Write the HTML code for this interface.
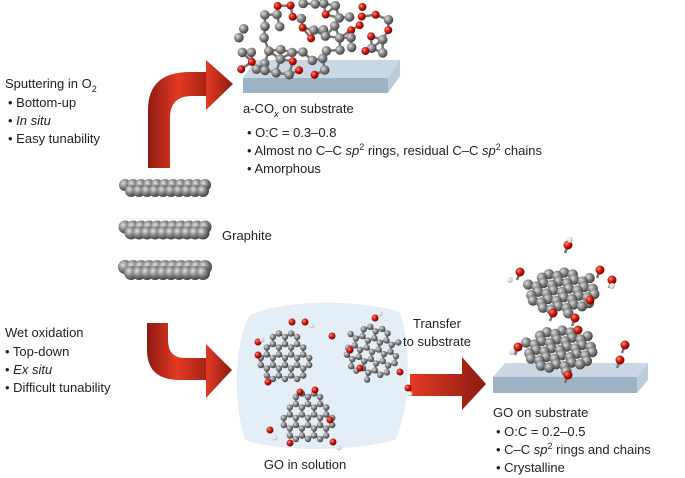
<!DOCTYPE html>
<html><head><meta charset="utf-8"><style>
body{margin:0;background:#fff}
svg{display:block}
text{font-family:"Liberation Sans",Arial,sans-serif;font-size:13px;fill:#222}
</style></head><body>
<svg id="s" width="685" height="478" viewBox="0 0 685 478" xmlns="http://www.w3.org/2000/svg">
<defs>
<radialGradient id="g" cx="35%" cy="35%" r="65%"><stop offset="0" stop-color="#e0e0e0"/><stop offset="0.5" stop-color="#8a8a8a"/><stop offset="1" stop-color="#444"/></radialGradient>
<radialGradient id="r" cx="35%" cy="35%" r="65%"><stop offset="0" stop-color="#ff8a80"/><stop offset="0.5" stop-color="#d01c10"/><stop offset="1" stop-color="#700"/></radialGradient>
<radialGradient id="w" cx="35%" cy="35%" r="65%"><stop offset="0" stop-color="#fff"/><stop offset="1" stop-color="#bbb"/></radialGradient>
<linearGradient id="ah" x1="0" x2="1"><stop offset="0" stop-color="#e33a25"/><stop offset="1" stop-color="#8e1a10"/></linearGradient>
<linearGradient id="av" x1="0" x2="1"><stop offset="0" stop-color="#8e1a10"/><stop offset="0.5" stop-color="#e33a25"/><stop offset="1" stop-color="#a52214"/></linearGradient>
</defs>
<path d="M250,315 C290,298 360,300 400,312 C412,350 410,410 395,440 C350,452 280,452 245,440 C232,400 235,340 250,315Z" fill="#e3eef7"/>
<polygon points="243,78 388,78 400,60 255,60" fill="#c9d8e4"/>
<polygon points="243,78 388,78 388,93 243,93" fill="#9db3c4"/>
<polygon points="388,78 400,60 400,76 388,93" fill="#b8ccda"/>
<polygon points="493,377 637,377 648,363 505,363" fill="#c9d8e4"/>
<polygon points="493,377 637,377 637,393 493,393" fill="#9db3c4"/>
<polygon points="637,377 648,363 648,380 637,393" fill="#b8ccda"/>
<path d="M148,168 L148,110 Q148,72 190,72 L208,72 L208,96 L192,96 Q170,96 170,118 L170,168Z" fill="url(#av)"/>
<polygon points="206,60 233,84 206,110" fill="url(#ah)"/>
<path d="M147,323 L147,350 Q147,380 180,380 L207,380 L207,358 L185,358 Q168,358 168,340 L168,323Z" fill="url(#av)"/>
<polygon points="206,344 232,370 206,398" fill="url(#ah)"/>
<polygon points="410,374 462,374 462,357 486,384 462,410 462,396 410,396" fill="url(#ah)"/>
<g id="bonds" stroke="#777" stroke-width="2"></g>
<g id="mol"></g>
<text x="5" y="88" font-size="13.5">Sputtering in O<tspan font-size="9" dy="4">2</tspan></text>
<text x="8" y="107">• Bottom-up</text>
<text x="8" y="125">• <tspan font-style="italic">In situ</tspan></text>
<text x="8" y="143">• Easy tunability</text>
<text x="243" y="113">a-CO<tspan font-size="9" dy="4" font-style="italic">x</tspan><tspan dy="-4"> on substrate</tspan></text>
<text x="247" y="137">• O:C = 0.3–0.8</text>
<text x="247" y="155">• Almost no C–C <tspan font-style="italic">sp</tspan><tspan font-size="9" dy="-5">2</tspan><tspan dy="5"> rings, residual C–C </tspan><tspan font-style="italic">sp</tspan><tspan font-size="9" dy="-5">2</tspan><tspan dy="5"> chains</tspan></text>
<text x="247" y="173">• Amorphous</text>
<text x="222" y="240">Graphite</text>
<text x="5" y="337">Wet oxidation</text>
<text x="5" y="356">• Top-down</text>
<text x="5" y="374">• <tspan font-style="italic">Ex situ</tspan></text>
<text x="5" y="392">• Difficult tunability</text>
<text x="437" y="328" text-anchor="middle">Transfer</text>
<text x="437" y="346" text-anchor="middle">to substrate</text>
<text x="305" y="469" text-anchor="middle">GO in solution</text>
<text x="493" y="417">GO on substrate</text>
<text x="496" y="436">• O:C = 0.2–0.5</text>
<text x="496" y="454">• C–C <tspan font-style="italic">sp</tspan><tspan font-size="9" dy="-5">2</tspan><tspan dy="5"> rings and chains</tspan></text>
<text x="496" y="472">• Crystalline</text>
</svg>
<script>
var m=document.getElementById('mol'),bd=document.getElementById('bonds'),NS='http://www.w3.org/2000/svg';
function b(x,y,r,f){var c=document.createElementNS(NS,'circle');c.setAttribute('cx',x.toFixed(1));c.setAttribute('cy',y.toFixed(1));c.setAttribute('r',r);c.setAttribute('fill','url(#'+f+')');m.appendChild(c);}
function ln(x1,y1,x2,y2,w){var l=document.createElementNS(NS,'line');l.setAttribute('x1',x1);l.setAttribute('y1',y1);l.setAttribute('x2',x2);l.setAttribute('y2',y2);if(w)l.setAttribute('stroke-width',w);bd.appendChild(l);}
var seed=7;function rnd(){seed=(seed*9301+49297)%233280;return seed/233280;}
[[188,6],[230,6.5],[270,7]].forEach(function(l,i){for(var k=0;k<2;k++)for(var x=125+k*6;x<=208-k*3;x+=8)b(x,l[0]-3+k*6,l[1],'g');});
function sheet(cx,cy,R,s,ang,sq,sr){var pts=[],a=ang*Math.PI/180,h=Math.sqrt(3)*s;
 for(var i=-8;i<=8;i++)for(var j=-8;j<=8;j++){[[0,0],[0,s]].forEach(function(bs){var x=i*h+j*h/2+bs[0],y=j*1.5*s+bs[1];if(x*x+y*y<=R*R)pts.push([x,y]);});}
 var T=pts.map(function(p){return [cx+p[0]*Math.cos(a)-p[1]*Math.sin(a),cy+(p[0]*Math.sin(a)+p[1]*Math.cos(a))*sq];});
 for(var i=0;i<pts.length;i++)for(var j=i+1;j<pts.length;j++){var dx=pts[i][0]-pts[j][0],dy=pts[i][1]-pts[j][1];if(Math.abs(Math.sqrt(dx*dx+dy*dy)-s)<0.5)ln(T[i][0],T[i][1],T[j][0],T[j][1]);}
 T.sort(function(p,q){return p[1]-q[1];}).forEach(function(p){b(p[0],p[1],sr,'g');});}
sheet(285,358,26,7,0,1,3.2);sheet(372,352,30,7,10,1,3.2);sheet(308,418,26,7,0,1,3.2);
[[258,342],[258,355],[268,382],[292,322],[305,322],[332,336],[350,350],[360,368],[375,318],[400,372],[408,388],[300,392],[315,390],[270,430],[290,443],[333,442],[330,420]].forEach(function(p){b(p[0],p[1],3.5,'r');});
[[262,340],[312,326],[380,314],[410,394],[275,438],[339,448]].forEach(function(p){b(p[0],p[1],2.5,'w');});
// top amorphous network on jittered grid
var atoms=[];
for(var y=6;y<=80;y+=11)for(var x=242;x<=392;x+=12){
 var inside=true;
 if(y>58&&x>335)inside=false;
 if(y<20&&x<262)inside=false;
 if(y<14&&x>370)inside=false;
 if(rnd()<0.2)inside=false;
 if(!inside)continue;
 atoms.push([x+(rnd()-0.5)*7,y+(rnd()-0.5)*6,rnd()<0.3?'r':'g']);}
for(var i=0;i<atoms.length;i++)for(var j=i+1;j<atoms.length;j++){var dx=atoms[i][0]-atoms[j][0],dy=atoms[i][1]-atoms[j][1];if(dx*dx+dy*dy<210&&rnd()<0.75)ln(atoms[i][0],atoms[i][1],atoms[j][0],atoms[j][1],2.5);}
atoms.sort(function(p,q){return p[1]-q[1];}).forEach(function(p){b(p[0],p[1],p[2]=='r'?4:4.8,p[2]);});
sheet(562,292,38,9,-10,0.6,5.2);sheet(560,350,38,9,-10,0.6,5.2);
[[520,272],[568,245],[600,270],[612,280],[575,318],[578,330],[553,313],[518,347],[625,345],[620,360],[568,375],[590,300]].forEach(function(p){ln(p[0],p[1],p[0]-3,p[1]+8,2.5);b(p[0],p[1],4.5,'r');});
[[510,280],[512,352],[612,286],[570,240]].forEach(function(p){b(p[0],p[1],3,'w');});
</script>
</body></html>
